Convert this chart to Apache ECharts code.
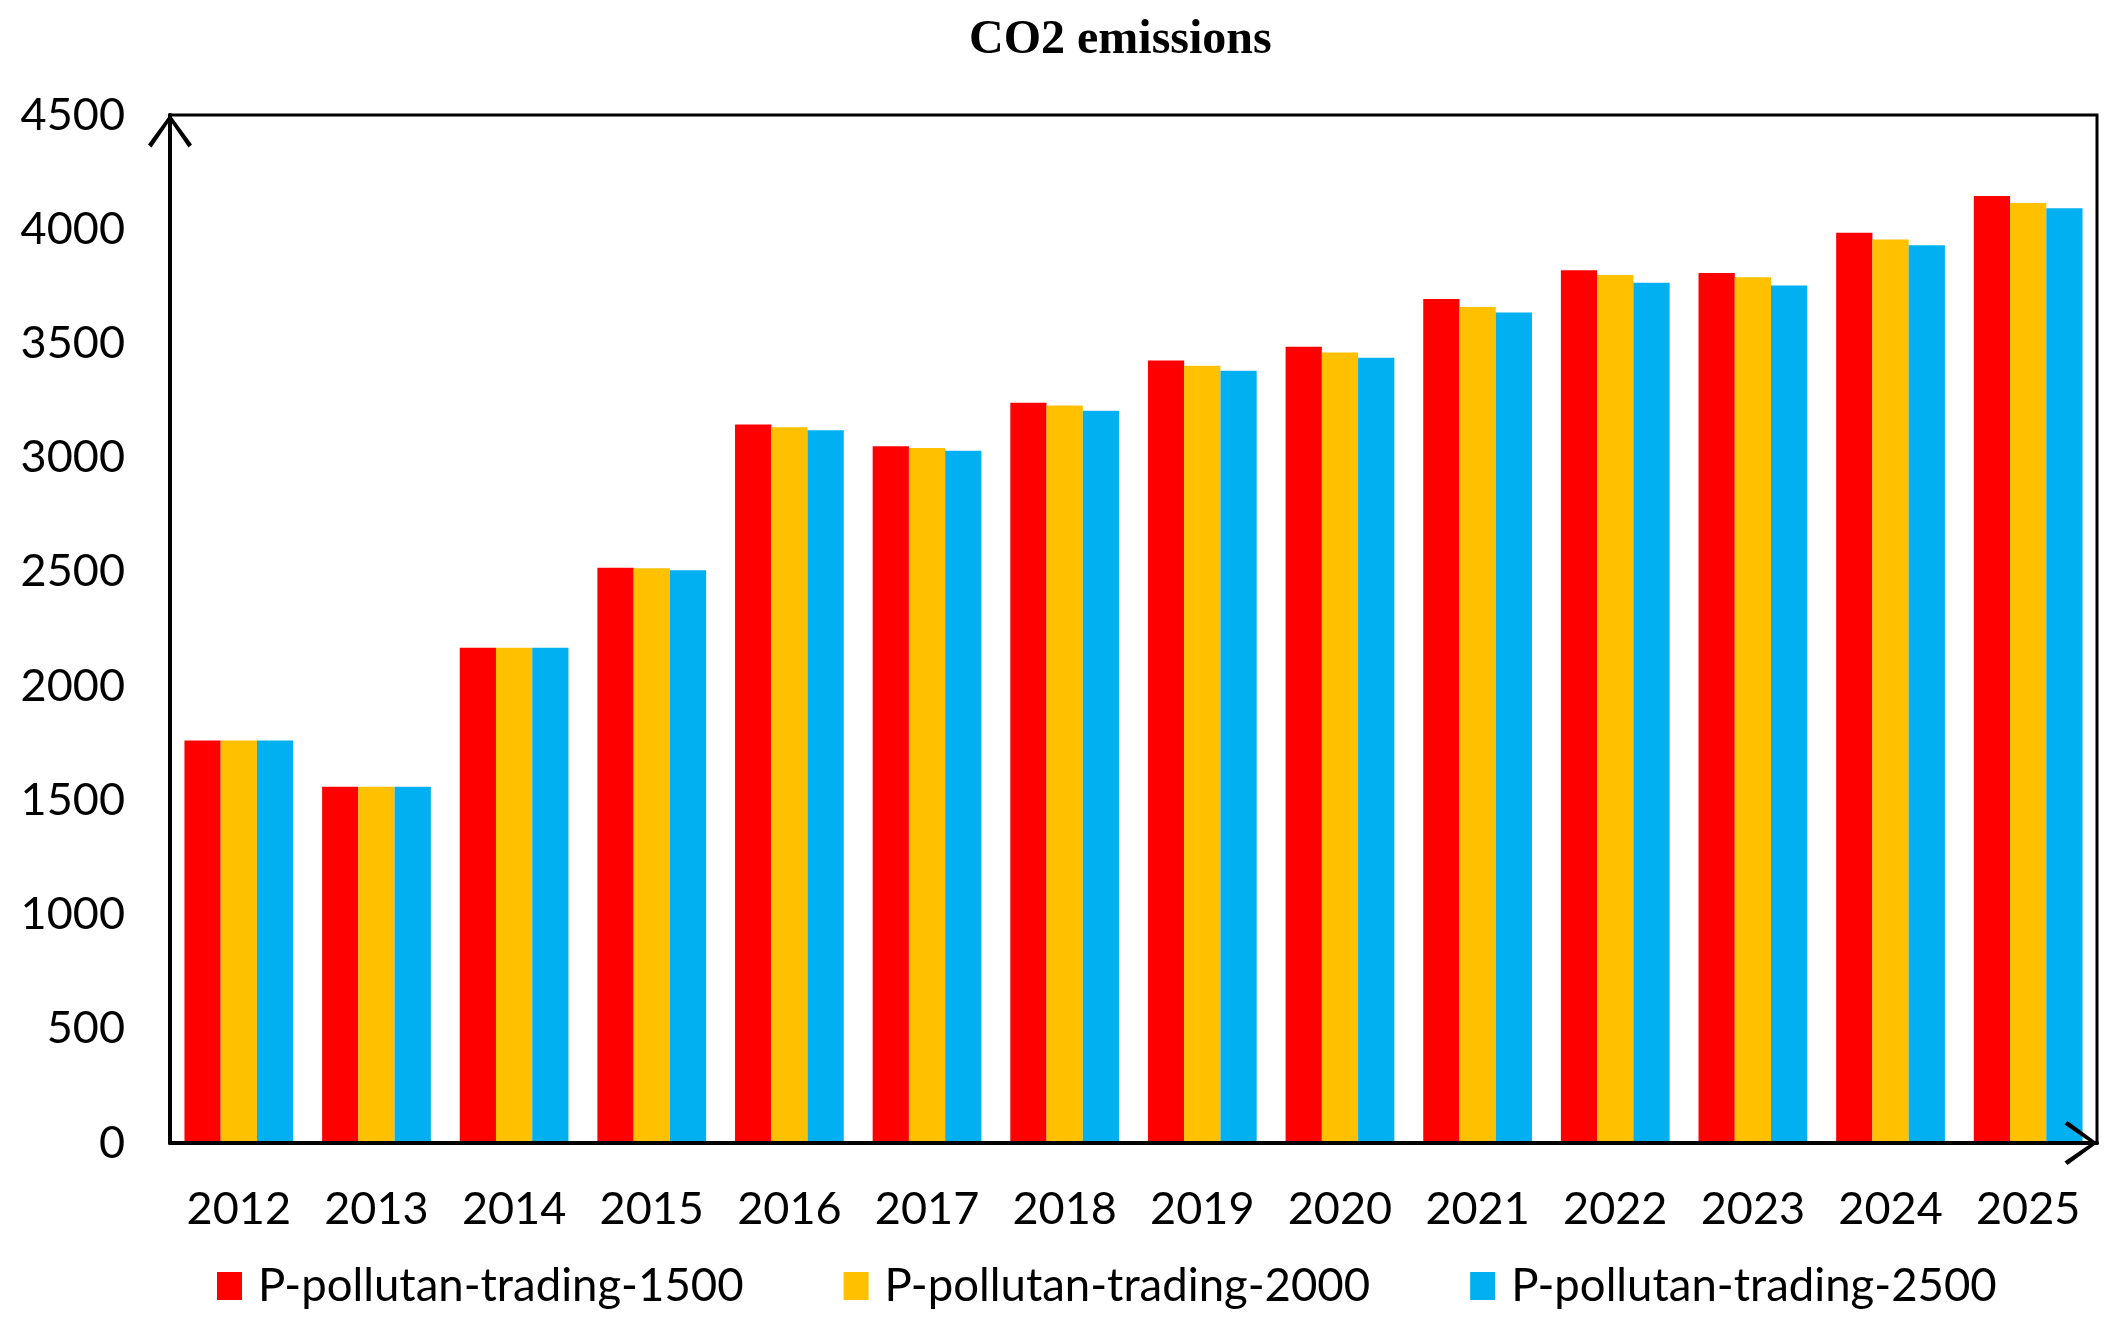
<!DOCTYPE html>
<html>
<head>
<meta charset="utf-8">
<script src="https://cdn.jsdelivr.net/npm/echarts@6/dist/echarts.min.js"></script>
<style>html,body{margin:0;padding:0;background:#fff}#c{width:2120px;height:1342px}</style>
</head>
<body>
<div id="c"></div>
<script>
const years = ['2012','2013','2014','2015','2016','2017','2018','2019','2020','2021','2022','2023','2024','2025'];
const seriesNames = ['P-pollutan-trading-1500','P-pollutan-trading-2000','P-pollutan-trading-2500'];
const trading1500 = [1762,1560,2168,2518,3145,3050,3240,3425,3485,3695,3820,3808,3985,4145];
const trading2000 = [1762,1560,2168,2516,3133,3042,3228,3402,3460,3660,3800,3790,3955,4115];
const trading2500 = [1762,1560,2168,2507,3120,3030,3205,3380,3437,3636,3766,3754,3930,4092];
const yTicks = {min: 0, max: 4500, interval: 500};
const colors = ['#FF0000','#FFC000','#00B0F0'];

const FONT = 'Lato';
const chevron = 'path://M22,0 L44,30 L40.5,33 L22,6 L3.5,33 L0,30 Z';

const chart = echarts.init(document.getElementById('c'), null, {renderer: 'canvas'});
const values = [trading1500, trading2000, trading2500];
chart.setOption({
  backgroundColor: '#fff',
  animation: false,
  title: {
    text: 'CO2 emissions',
    left: 964, top: 12,
    textStyle: {fontFamily: 'Liberation Serif', fontWeight: 'bold', fontSize: 48, color: '#000'}
  },
  legend: {
    left: 212, top: 1258,
    itemWidth: 25, itemHeight: 28, itemGap: 100,
    icon: 'rect',
    textStyle: {fontFamily: FONT, fontSize: 45.5, color: '#000', padding: [0,0,0,11]},
    data: seriesNames
  },
  grid: {
    left: 170, right: 23, top: 115, bottom: 199,
    show: true, borderColor: '#000', borderWidth: 3
  },
  xAxis: {
    type: 'category',
    data: years,
    z: 5,
    axisLine: {show: true, lineStyle: {color: '#000', width: 4},
      symbol: ['none', chevron], symbolSize: [44, 33], symbolOffset: [0, -16]},
    axisTick: {show: false},
    splitLine: {show: false},
    axisLabel: {fontFamily: FONT, fontSize: 45, color: '#000', margin: 44, interval: 0}
  },
  yAxis: {
    type: 'value',
    z: 5,
    min: yTicks.min, max: yTicks.max, interval: yTicks.interval,
    axisLine: {show: true, lineStyle: {color: '#000', width: 4},
      symbol: ['none', chevron], symbolSize: [44, 33], symbolOffset: [0, -16]},
    axisTick: {show: false},
    splitLine: {show: false},
    axisLabel: {fontFamily: FONT, fontSize: 45, color: '#000', margin: 45,
      formatter: v => String(v)}
  },
  series: seriesNames.map((n, i) => ({
    name: n,
    type: 'bar',
    data: values[i],
    itemStyle: {color: colors[i]},
    barGap: '0%',
    barCategoryGap: '21%'
  }))
});
</script>
</body>
</html>
